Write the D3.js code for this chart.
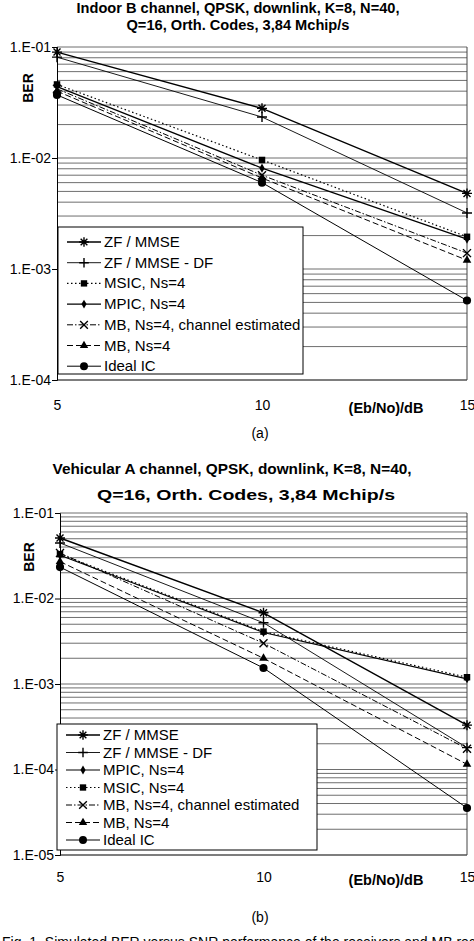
<!DOCTYPE html>
<html>
<head>
<meta charset="utf-8">
<script src="https://cdn.jsdelivr.net/npm/d3@7"></script>
<style>
  body { margin: 0; background: #fff; }
  text { font-family: "Liberation Sans", Arial, sans-serif; }
</style>
</head>
<body>
<svg id="ber" width="474" height="941"></svg>
<script>
// x values (Eb/No in dB)
const ebno = [5, 10, 15];

// panel (a): Indoor B channel
const indoorNames = ["ZF / MMSE", "ZF / MMSE - DF", "MSIC, Ns=4", "MPIC, Ns=4",
  "MB, Ns=4, channel estimated", "MB, Ns=4", "Ideal IC"];
const indoorZF    = [0.090, 0.028, 0.0048];
const indoorDF    = [0.081, 0.0234, 0.0032];
const indoorMSIC  = [0.046, 0.0096, 0.00195];
const indoorMPIC  = [0.044, 0.0081, 0.00186];
const indoorMBce  = [0.042, 0.0070, 0.00139];
const indoorMB    = [0.040, 0.0066, 0.0012];
const indoorIdeal = [0.037, 0.0060, 0.00052];

// panel (b): Vehicular A channel
const vehNames = ["ZF / MMSE", "ZF / MMSE - DF", "MPIC, Ns=4", "MSIC, Ns=4",
  "MB, Ns=4, channel estimated", "MB, Ns=4", "Ideal IC"];
const vehZF    = [0.051, 0.0068, 0.00033];
const vehDF    = [0.0446, 0.0052, 0.00018];
const vehMPIC  = [0.032, 0.0040, 0.00115];
const vehMSIC  = [0.033, 0.0041, 0.0012];
const vehMBce  = [0.034, 0.0030, 0.000175];
const vehMB    = [0.027, 0.0020, 0.000115];
const vehIdeal = [0.0233, 0.00154, 0.0000355];

const decadesA = [1e-4, 1e-3, 1e-2, 1e-1];
const decadesB = [1e-5, 1e-4, 1e-3, 1e-2, 1e-1];
const xTicks = [5, 10, 15];

// line style + marker per curve type
const styles = {
  "ZF / MMSE":      {dash: null, width: 1.4, marker: "asterisk"},
  "ZF / MMSE - DF": {dash: null, width: 0.9, marker: "plus"},
  "MSIC, Ns=4":     {dash: "1.5,2.5", width: 1.2, marker: "square"},
  "MPIC, Ns=4":     {dash: null, width: 1.2, marker: "diamond"},
  "MB, Ns=4, channel estimated": {dash: "6,2,1.5,2", width: 1, marker: "times"},
  "MB, Ns=4":       {dash: "6,3", width: 1, marker: "triangle"},
  "Ideal IC":       {dash: null, width: 1, marker: "circle"}
};

function markerPath(type, s) {
  const p = d3.path();
  if (type == "asterisk") {
    p.moveTo(-s, 0); p.lineTo(s, 0);
    p.moveTo(-s * 0.7, -s * 0.7); p.lineTo(s * 0.7, s * 0.7);
    p.moveTo(-s * 0.7, s * 0.7); p.lineTo(s * 0.7, -s * 0.7);
    p.moveTo(0, -s); p.lineTo(0, s);
  } else if (type == "plus") {
    p.moveTo(-s, 0); p.lineTo(s, 0);
    p.moveTo(0, -s); p.lineTo(0, s);
  } else if (type == "times") {
    p.moveTo(-s * 0.8, -s * 0.8); p.lineTo(s * 0.8, s * 0.8);
    p.moveTo(-s * 0.8, s * 0.8); p.lineTo(s * 0.8, -s * 0.8);
  }
  return p.toString();
}

function drawMarker(g, type, x, y, size) {
  if (type == "asterisk" || type == "plus" || type == "times") {
    g.append("path").attr("d", markerPath(type, size))
      .attr("transform", `translate(${x},${y})`)
      .attr("stroke", "#000").attr("stroke-width", 1.4).attr("fill", "none");
  } else {
    const sym = {square: d3.symbolSquare, diamond: d3.symbolDiamond,
                 triangle: d3.symbolTriangle, circle: d3.symbolCircle}[type];
    const area = {square: 42, diamond: 24, triangle: 32, circle: 52}[type];
    g.append("path").attr("d", d3.symbol().type(sym).size(area * size / 5)())
      .attr("transform", `translate(${x},${y})`)
      .attr("fill", "#000");
  }
}

const svg = d3.select("svg#ber");

function drawPanel(p) {
  const g = svg.append("g");
  const xScale = d3.scaleLinear().domain([5, 15]).range([p.left, p.right]);
  const yScale = d3.scaleLog().domain([p.decades[0], p.decades[p.decades.length - 1]])
    .range([p.bottom, p.top]);

  // title, stretched to the width the scan shows
  p.title.forEach((t, i) => {
    g.append("text").text(t)
      .attr("x", p.titleX[i]).attr("y", p.titleY[i])
      .attr("text-anchor", "middle")
      .attr("textLength", p.titleLen[i]).attr("lengthAdjust", "spacingAndGlyphs")
      .attr("font-weight", "bold").attr("font-size", p.titleSize);
  });

  // minor + major horizontal gridlines
  const grid = [];
  p.decades.forEach((d, i) => {
    if (i < p.decades.length - 1) {
      for (let k = 1; k < 10; k++) grid.push(d * k);
    }
  });
  grid.push(p.decades[p.decades.length - 1]);
  g.selectAll(".grid").data(grid).enter().append("line")
    .attr("x1", p.left).attr("x2", p.right)
    .attr("y1", d => yScale(d)).attr("y2", d => yScale(d))
    .attr("stroke", "#6e6e6e").attr("stroke-width", 1);

  // frame
  g.append("line").attr("x1", p.right).attr("x2", p.right)
    .attr("y1", p.top).attr("y2", p.bottom).attr("stroke", "#444");
  g.append("line").attr("x1", p.left).attr("x2", p.right)
    .attr("y1", p.bottom).attr("y2", p.bottom).attr("stroke", "#444");

  // y axis
  const leftAxis = d3.axisLeft(yScale).tickValues(p.decades).tickSize(5)
    .tickFormat(d => "1.E-0" + Math.round(-Math.log10(d)));
  const ya = g.append("g").attr("transform", `translate(${p.left},0)`).call(leftAxis);
  ya.selectAll("text").attr("font-size", 14).attr("font-family", "Liberation Sans, Arial")
    .attr("fill", "#000").attr("x", -6);
  ya.select(".domain").attr("stroke", "#000");

  // x axis labels
  const bottomAxis = d3.axisBottom(xScale).tickValues(xTicks).tickSize(0);
  const xa = g.append("g").attr("transform", `translate(0,${p.bottom})`).call(bottomAxis);
  xa.select(".domain").remove();
  xa.selectAll("text").attr("font-size", 14).attr("font-family", "Liberation Sans, Arial")
    .attr("fill", "#000").attr("dy", 0).attr("y", p.xLabelOffset);

  g.append("text").text("(Eb/No)/dB")
    .attr("x", 386).attr("y", p.bottom + p.xLabelOffset + 3)
    .attr("text-anchor", "middle").attr("font-weight", "bold").attr("font-size", 14.5);

  g.append("text").text("BER")
    .attr("transform", `translate(${p.berX},${p.berY}) rotate(-90)`)
    .attr("text-anchor", "middle").attr("font-weight", "bold").attr("font-size", 14);

  g.append("text").text(p.tag)
    .attr("x", 260).attr("y", p.tagY).attr("text-anchor", "middle")
    .attr("font-family", "Liberation Serif, Times New Roman, serif").attr("font-size", 14);

  // curves
  const line = d3.line().x((d, i) => xScale(ebno[i])).y(d => yScale(d));
  p.names.forEach((name, si) => {
    const st = styles[name];
    const vals = p.series[si];
    g.append("path").datum(vals).attr("d", line)
      .attr("fill", "none").attr("stroke", "#000")
      .attr("stroke-width", st.width)
      .attr("stroke-dasharray", st.dash);
    vals.forEach((v, i) => drawMarker(g, st.marker, xScale(ebno[i]), yScale(v), 5));
  });

  // legend
  const lg = g.append("g");
  lg.append("rect").attr("x", p.legend.x).attr("y", p.legend.y)
    .attr("width", p.legend.w).attr("height", p.legend.h)
    .attr("fill", "#fff").attr("stroke", "#000").attr("stroke-width", 1);
  p.names.forEach((name, si) => {
    const st = styles[name];
    const y = p.legend.y + p.legend.first + si * p.legend.gap;
    lg.append("line").attr("x1", p.legend.x + 9).attr("x2", p.legend.x + 43)
      .attr("y1", y).attr("y2", y).attr("stroke", "#000")
      .attr("stroke-width", st.width).attr("stroke-dasharray", st.dash);
    drawMarker(lg, st.marker, p.legend.x + 26, y, 4.8);
    lg.append("text").text(name)
      .attr("x", p.legend.x + 46).attr("y", y + 5)
      .attr("font-size", p.legend.font);
  });
}

drawPanel({
  title: ["Indoor B channel, QPSK, downlink, K=8, N=40,", "Q=16, Orth. Codes, 3,84 Mchip/s"],
  titleX: [238, 238], titleY: [13, 30], titleLen: [323, 223], titleSize: 14.5,
  left: 57, right: 467, top: 47, bottom: 380,
  decades: decadesA, names: indoorNames,
  series: [indoorZF, indoorDF, indoorMSIC, indoorMPIC, indoorMBce, indoorMB, indoorIdeal],
  xLabelOffset: 30, berX: 33, berY: 88, tag: "(a)", tagY: 438,
  legend: {x: 58, y: 227, w: 245, h: 147, first: 15, gap: 20.7, font: 15}
});

drawPanel({
  title: ["Vehicular A channel, QPSK, downlink, K=8, N=40,", "Q=16, Orth. Codes, 3,84 Mchip/s"],
  titleX: [232, 246], titleY: [474, 500], titleLen: [359, 298], titleSize: 15.5,
  left: 60, right: 467, top: 513, bottom: 855,
  decades: decadesB, names: vehNames,
  series: [vehZF, vehDF, vehMPIC, vehMSIC, vehMBce, vehMB, vehIdeal],
  xLabelOffset: 27, berX: 34, berY: 557, tag: "(b)", tagY: 922,
  legend: {x: 57, y: 724, w: 260, h: 126, first: 11, gap: 17.5, font: 15}
});

// figure caption, only its top edge is inside the frame in the scan
svg.append("text").text("Fig. 1.   Simulated BER versus SNR performance of the receivers and MB receivers")
  .attr("x", 2).attr("y", 947).attr("font-family", "Liberation Serif, Times New Roman, serif")
  .attr("font-size", 14);
</script>
</body>
</html>
